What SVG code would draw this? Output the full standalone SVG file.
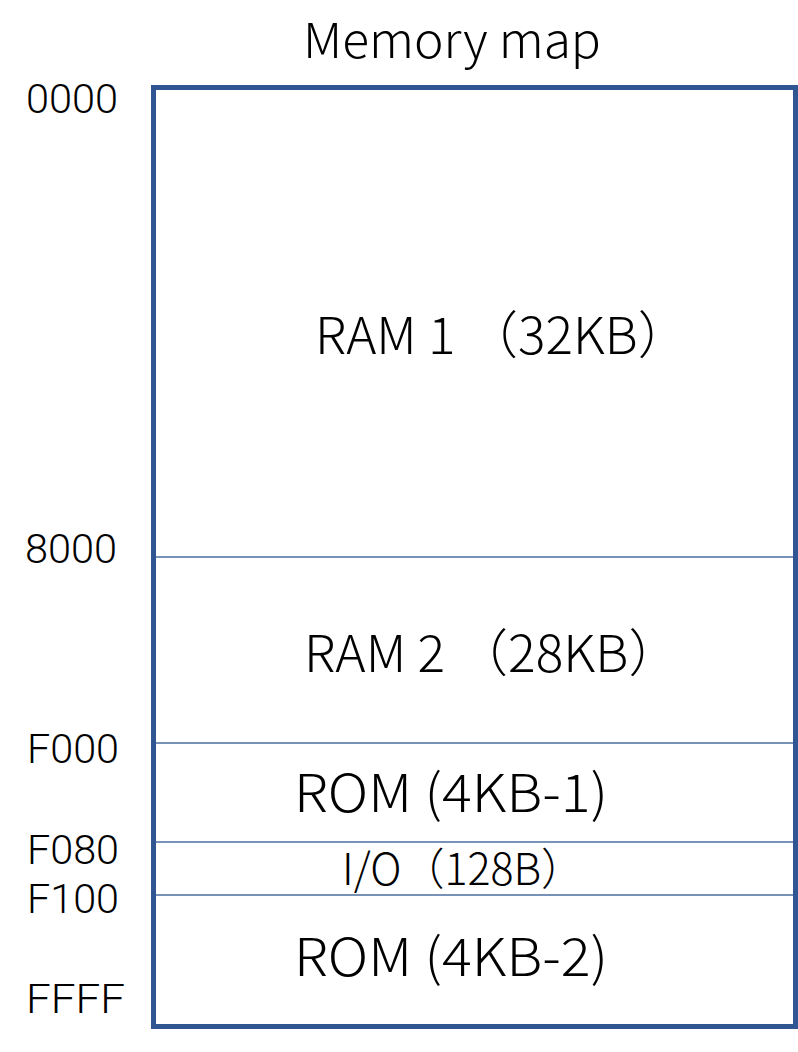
<svg xmlns="http://www.w3.org/2000/svg" width="798" height="1052" viewBox="0 0 798 1052">
<style>
  text { font-family: "Noto Sans CJK JP", "Noto Sans", "Liberation Sans", sans-serif; font-weight: 300; fill: #000; }
  .addr { font-family: Roboto, "Liberation Sans", sans-serif; font-weight: 300; font-size: 41px; }
  .big { font-size: 51px; }
  .rom { font-size: 52px; }
  .io { font-size: 44px; }
  .title { font-size: 48px; }
  .frame { fill: #fff; stroke: #2F5592; stroke-width: 5; }
  .div { stroke: #4A6E9E; stroke-width: 1.5; fill: none; }
</style>
<rect x="0" y="0" width="798" height="1052" fill="#fff"/>
<g id="title"><text class="title" x="303" y="58" textLength="298" lengthAdjust="spacingAndGlyphs">Memory map</text></g>
<g id="memory-frame"><rect class="frame" x="153.5" y="87.5" width="642" height="939"/></g>
<g id="connectors">
  <line class="div" x1="156" y1="557" x2="793" y2="557"/>
  <line class="div" x1="156" y1="743" x2="793" y2="743"/>
  <line class="div" x1="156" y1="842" x2="793" y2="842"/>
  <line class="div" x1="156" y1="895" x2="793" y2="895"/>
</g>
<g id="addresses">
  <text class="addr" x="26" y="113" textLength="92" lengthAdjust="spacingAndGlyphs">0000</text>
  <text class="addr" x="25" y="563" textLength="92" lengthAdjust="spacingAndGlyphs">8000</text>
  <text class="addr" x="27" y="763" textLength="92" lengthAdjust="spacingAndGlyphs">F000</text>
  <text class="addr" x="27" y="864" textLength="92" lengthAdjust="spacingAndGlyphs">F080</text>
  <text class="addr" x="27" y="913" textLength="92" lengthAdjust="spacingAndGlyphs">F100</text>
  <text class="addr" x="26" y="1013" textLength="99" lengthAdjust="spacingAndGlyphs">FFFF</text>
</g>
<g id="ram1"><text class="big" x="315" y="354" textLength="374" lengthAdjust="spacingAndGlyphs">RAM 1 （32KB）</text></g>
<g id="ram2"><text class="big" x="304" y="672" textLength="376" lengthAdjust="spacingAndGlyphs">RAM 2 （28KB）</text></g>
<g id="rom1"><text class="rom" x="294" y="812" textLength="314" lengthAdjust="spacingAndGlyphs">ROM (4KB-1)</text></g>
<g id="io"><text class="io" x="342" y="885" textLength="242" lengthAdjust="spacingAndGlyphs">I/O（128B）</text></g>
<g id="rom2"><text class="rom" x="294" y="976" textLength="314" lengthAdjust="spacingAndGlyphs">ROM (4KB-2)</text></g>
</svg>
